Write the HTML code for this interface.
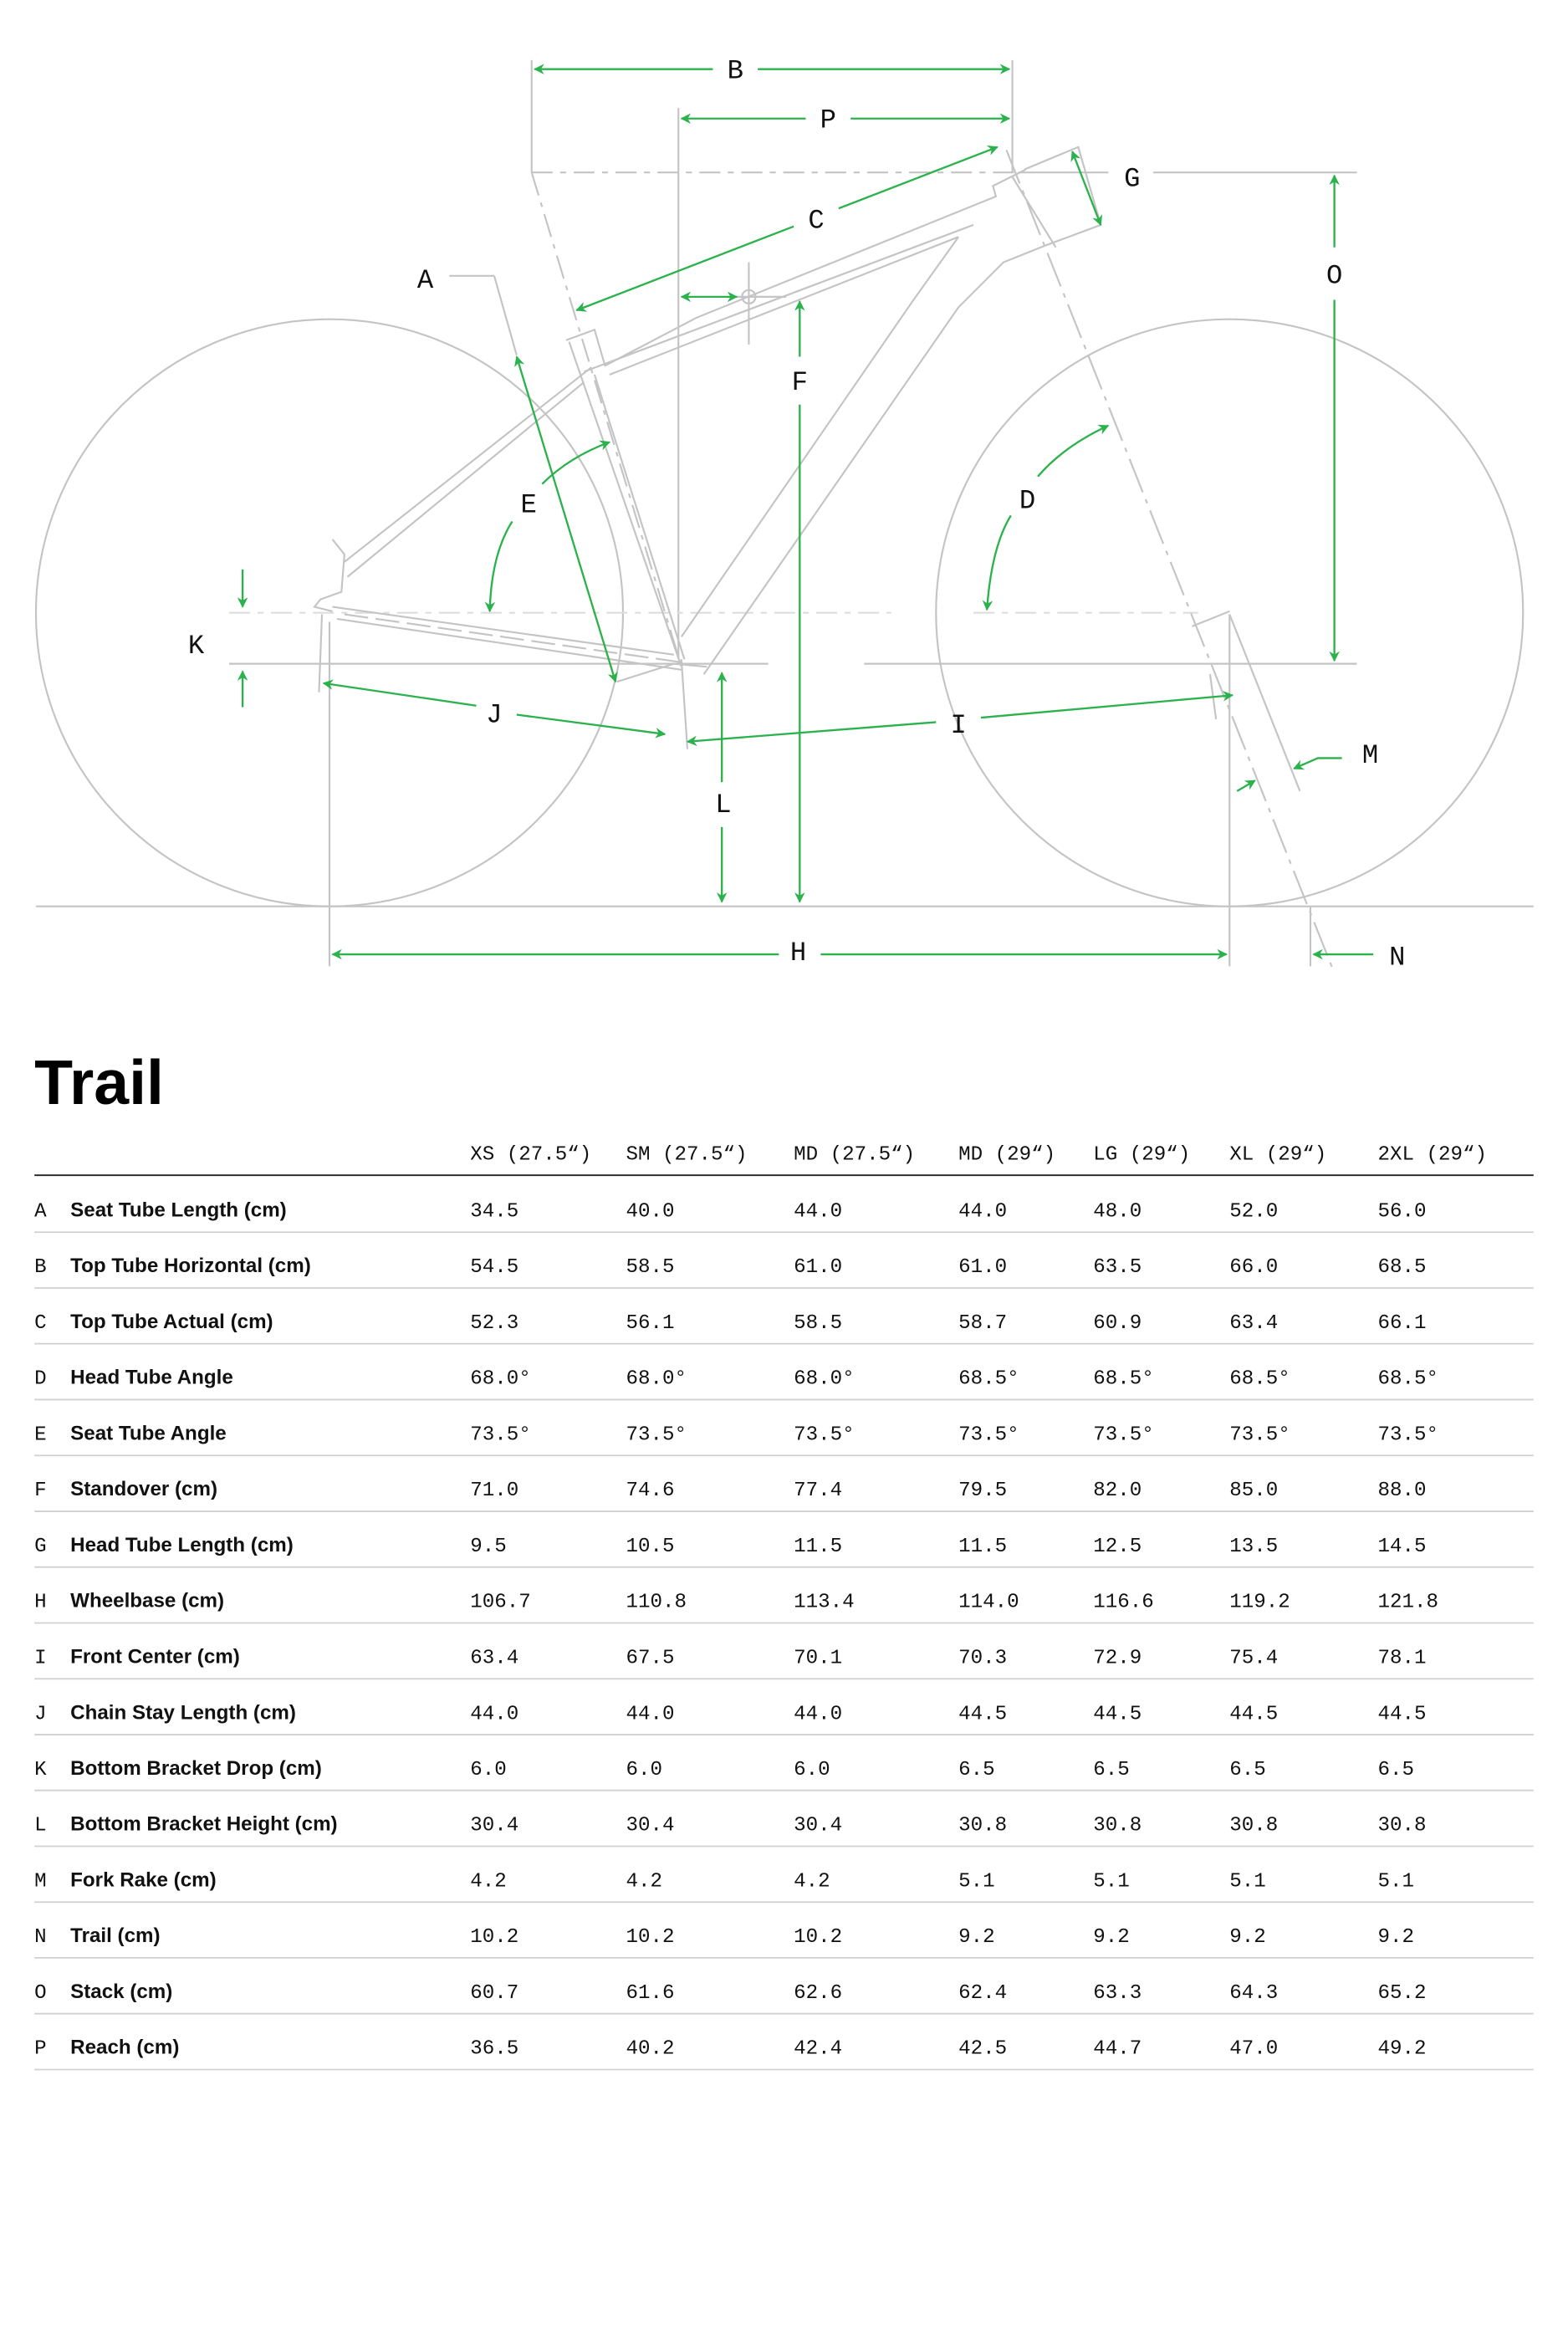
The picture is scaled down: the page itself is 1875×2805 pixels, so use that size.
<!DOCTYPE html>
<html><head><meta charset="utf-8"><style>
html,body{margin:0;padding:0;background:#fff;}
svg{display:block;}
.m{font-family:"Liberation Mono",monospace;}
.b{font-family:"Liberation Sans",sans-serif;font-weight:bold;}
</style></head><body>
<svg width="1875" height="2805" viewBox="0 0 1047 1566" xmlns="http://www.w3.org/2000/svg">
<defs>
<marker id="ar" viewBox="0 0 10 10" refX="9" refY="5" markerWidth="7" markerHeight="7" orient="auto-start-reverse" markerUnits="userSpaceOnUse"><path d="M0,0 L10,5 L0,10 L3,5 z" fill="#2bb24c"/></marker>
</defs>
<rect width="1047" height="1566" fill="#fff"/>
<g fill="none" stroke="#c4c4c4" stroke-width="1.2">
<circle cx="220" cy="409" r="196"/>
<circle cx="821" cy="409" r="196"/>
<line x1="24" y1="605" x2="1024" y2="605"/>
<line x1="355" y1="40" x2="355" y2="115"/>
<line x1="676" y1="40" x2="676" y2="115"/>
<line x1="453" y1="72" x2="453" y2="440"/>
<line x1="355" y1="115" x2="680" y2="115" stroke-dasharray="14,5,4,5"/>
<line x1="680" y1="115" x2="740" y2="115"/>
<line x1="770" y1="115" x2="906" y2="115"/>
<line x1="153" y1="443" x2="513" y2="443"/>
<line x1="577" y1="443" x2="906" y2="443"/>
<line x1="153" y1="409" x2="595" y2="409" stroke-dasharray="14,5,4,5" stroke="#ddd"/>
<line x1="650" y1="409" x2="800" y2="409" stroke-dasharray="14,5,4,5" stroke="#ddd"/>
<line x1="355" y1="115" x2="455" y2="445" stroke-dasharray="16,5,3,5"/>
<line x1="672" y1="100" x2="890" y2="647" stroke-dasharray="24,5,3,5"/>
<line x1="220" y1="415" x2="220" y2="645"/>
<line x1="215" y1="410" x2="213" y2="462"/>
<line x1="821" y1="410" x2="821" y2="645"/>
<line x1="875" y1="605" x2="875" y2="645"/>
<line x1="455" y1="440" x2="459" y2="500"/>
<line x1="300" y1="184" x2="330" y2="184"/>
<line x1="330" y1="184" x2="345" y2="237"/>
<line x1="500" y1="175" x2="500" y2="230"/>
<line x1="490" y1="198" x2="525" y2="198"/>
<circle cx="500" cy="198" r="4.5"/>
<polyline points="378,227 397,220 404,244 465,212 665,131 663,124 685,113"/>
<polyline points="390,248 650,150"/>
<polyline points="407,250 640,158"/>
<polyline points="684,113 720,98 735,150 700,163"/>
<line x1="676" y1="118" x2="705" y2="165"/>
<polyline points="640,158 610,200 455,425"/>
<polyline points="700,163 670,175 640,205 470,450"/>
<polyline points="380,228 455,445"/>
<polyline points="397,250 457,440"/>
<polyline points="395,245 230,375"/>
<polyline points="390,255 232,385"/>
<polyline points="222,360 230,370 228,395 214,400 210,405 222,408"/>
<polyline points="222,405 450,437"/>
<polyline points="225,413 455,447"/>
<line x1="230" y1="410" x2="455" y2="442" stroke-dasharray="16,5"/>
<polyline points="412,455 450,443 472,445"/>
<polyline points="796,418 821,408"/>
<line x1="821" y1="410" x2="868" y2="528"/>
<line x1="808" y1="450" x2="812" y2="480"/>
</g>
<g stroke="#2bb24c" stroke-width="1.3" fill="none">
<line x1="357" y1="46" x2="476" y2="46" marker-start="url(#ar)"/>
<line x1="506" y1="46" x2="674" y2="46" marker-end="url(#ar)"/>
<line x1="455" y1="79" x2="538" y2="79" marker-start="url(#ar)"/>
<line x1="568" y1="79" x2="674" y2="79" marker-end="url(#ar)"/>
<line x1="385" y1="207" x2="530" y2="151" marker-start="url(#ar)"/>
<line x1="560" y1="139" x2="666" y2="98" marker-end="url(#ar)"/>
<line x1="716" y1="101" x2="735" y2="150" marker-start="url(#ar)" marker-end="url(#ar)"/>
<line x1="891" y1="117" x2="891" y2="165" marker-start="url(#ar)"/>
<line x1="891" y1="200" x2="891" y2="441" marker-end="url(#ar)"/>
<line x1="455" y1="198" x2="492" y2="198" marker-start="url(#ar)" marker-end="url(#ar)"/>
<line x1="534" y1="201" x2="534" y2="238" marker-start="url(#ar)"/>
<line x1="534" y1="270" x2="534" y2="602" marker-end="url(#ar)"/>
<line x1="345" y1="238" x2="411" y2="455" marker-start="url(#ar)" marker-end="url(#ar)"/>
<path d="M362,323 Q380,305 407,295" marker-end="url(#ar)"/>
<path d="M342,348 Q328,370 327,408" marker-end="url(#ar)"/>
<path d="M693,318 Q710,298 740,284" marker-end="url(#ar)"/>
<path d="M675,344 Q662,365 659,407" marker-end="url(#ar)"/>
<line x1="162" y1="380" x2="162" y2="405" marker-end="url(#ar)"/>
<line x1="162" y1="472" x2="162" y2="448" marker-end="url(#ar)"/>
<line x1="216" y1="456" x2="318" y2="471" marker-start="url(#ar)"/>
<line x1="345" y1="477" x2="444" y2="490" marker-end="url(#ar)"/>
<line x1="459" y1="495" x2="625" y2="482" marker-start="url(#ar)"/>
<line x1="655" y1="479" x2="823" y2="464" marker-end="url(#ar)"/>
<line x1="482" y1="449" x2="482" y2="522" marker-start="url(#ar)"/>
<line x1="482" y1="552" x2="482" y2="602" marker-end="url(#ar)"/>
<line x1="222" y1="637" x2="520" y2="637" marker-start="url(#ar)"/>
<line x1="548" y1="637" x2="819" y2="637" marker-end="url(#ar)"/>
<path d="M896,506 L880,506 L864,513" marker-end="url(#ar)"/>
<line x1="826" y1="528" x2="838" y2="521" marker-end="url(#ar)"/>
<line x1="917" y1="637" x2="877" y2="637" marker-end="url(#ar)"/>
</g>
<g font-family="Liberation Mono, monospace" font-size="18" fill="#111" text-anchor="middle">
<text x="491" y="52">B</text><text x="553" y="85">P</text><text x="545" y="152">C</text>
<text x="756" y="124">G</text><text x="891" y="189">O</text><text x="284" y="192">A</text>
<text x="534" y="260">F</text><text x="353" y="342">E</text><text x="686" y="339">D</text>
<text x="131" y="436">K</text><text x="330" y="482">J</text><text x="640" y="489">I</text>
<text x="483" y="542">L</text><text x="533" y="641">H</text><text x="915" y="509">M</text>
<text x="933" y="644">N</text>
</g>
<text x="23" y="737" font-family="Liberation Sans, sans-serif" font-weight="bold" font-size="42" fill="#000">Trail</text>
<g class="m" font-size="13.5" fill="#111">
<text x="314" y="774">XS (27.5“)</text><text x="418" y="774">SM (27.5“)</text><text x="530" y="774">MD (27.5“)</text><text x="640" y="774">MD (29“)</text><text x="730" y="774">LG (29“)</text><text x="821" y="774">XL (29“)</text><text x="920" y="774">2XL (29“)</text>
</g>
<line x1="23" y1="784.5" x2="1024" y2="784.5" stroke="#222" stroke-width="1"/>
<g stroke="#d0d0d0" stroke-width="1">
<line x1="23" x2="1024" y1="822.5" y2="822.5"/><line x1="23" x2="1024" y1="859.8" y2="859.8"/><line x1="23" x2="1024" y1="897" y2="897"/><line x1="23" x2="1024" y1="934.3" y2="934.3"/><line x1="23" x2="1024" y1="971.6" y2="971.6"/><line x1="23" x2="1024" y1="1008.9" y2="1008.9"/><line x1="23" x2="1024" y1="1046.1" y2="1046.1"/><line x1="23" x2="1024" y1="1083.4" y2="1083.4"/><line x1="23" x2="1024" y1="1120.7" y2="1120.7"/><line x1="23" x2="1024" y1="1158" y2="1158"/><line x1="23" x2="1024" y1="1195.2" y2="1195.2"/><line x1="23" x2="1024" y1="1232.5" y2="1232.5"/><line x1="23" x2="1024" y1="1269.8" y2="1269.8"/><line x1="23" x2="1024" y1="1307" y2="1307"/><line x1="23" x2="1024" y1="1344.3" y2="1344.3"/><line x1="23" x2="1024" y1="1381.6" y2="1381.6"/>
</g>
<g font-size="13.5" fill="#111">
<g transform="translate(0,812)"><text class="m" x="23">A</text><text class="b" x="47">Seat Tube Length (cm)</text><text class="m" x="314">34.5</text><text class="m" x="418">40.0</text><text class="m" x="530">44.0</text><text class="m" x="640">44.0</text><text class="m" x="730">48.0</text><text class="m" x="821">52.0</text><text class="m" x="920">56.0</text></g>
<g transform="translate(0,849.3)"><text class="m" x="23">B</text><text class="b" x="47">Top Tube Horizontal (cm)</text><text class="m" x="314">54.5</text><text class="m" x="418">58.5</text><text class="m" x="530">61.0</text><text class="m" x="640">61.0</text><text class="m" x="730">63.5</text><text class="m" x="821">66.0</text><text class="m" x="920">68.5</text></g>
<g transform="translate(0,886.5)"><text class="m" x="23">C</text><text class="b" x="47">Top Tube Actual (cm)</text><text class="m" x="314">52.3</text><text class="m" x="418">56.1</text><text class="m" x="530">58.5</text><text class="m" x="640">58.7</text><text class="m" x="730">60.9</text><text class="m" x="821">63.4</text><text class="m" x="920">66.1</text></g>
<g transform="translate(0,923.8)"><text class="m" x="23">D</text><text class="b" x="47">Head Tube Angle</text><text class="m" x="314">68.0°</text><text class="m" x="418">68.0°</text><text class="m" x="530">68.0°</text><text class="m" x="640">68.5°</text><text class="m" x="730">68.5°</text><text class="m" x="821">68.5°</text><text class="m" x="920">68.5°</text></g>
<g transform="translate(0,961.1)"><text class="m" x="23">E</text><text class="b" x="47">Seat Tube Angle</text><text class="m" x="314">73.5°</text><text class="m" x="418">73.5°</text><text class="m" x="530">73.5°</text><text class="m" x="640">73.5°</text><text class="m" x="730">73.5°</text><text class="m" x="821">73.5°</text><text class="m" x="920">73.5°</text></g>
<g transform="translate(0,998.4)"><text class="m" x="23">F</text><text class="b" x="47">Standover (cm)</text><text class="m" x="314">71.0</text><text class="m" x="418">74.6</text><text class="m" x="530">77.4</text><text class="m" x="640">79.5</text><text class="m" x="730">82.0</text><text class="m" x="821">85.0</text><text class="m" x="920">88.0</text></g>
<g transform="translate(0,1035.6)"><text class="m" x="23">G</text><text class="b" x="47">Head Tube Length (cm)</text><text class="m" x="314">9.5</text><text class="m" x="418">10.5</text><text class="m" x="530">11.5</text><text class="m" x="640">11.5</text><text class="m" x="730">12.5</text><text class="m" x="821">13.5</text><text class="m" x="920">14.5</text></g>
<g transform="translate(0,1072.9)"><text class="m" x="23">H</text><text class="b" x="47">Wheelbase (cm)</text><text class="m" x="314">106.7</text><text class="m" x="418">110.8</text><text class="m" x="530">113.4</text><text class="m" x="640">114.0</text><text class="m" x="730">116.6</text><text class="m" x="821">119.2</text><text class="m" x="920">121.8</text></g>
<g transform="translate(0,1110.2)"><text class="m" x="23">I</text><text class="b" x="47">Front Center (cm)</text><text class="m" x="314">63.4</text><text class="m" x="418">67.5</text><text class="m" x="530">70.1</text><text class="m" x="640">70.3</text><text class="m" x="730">72.9</text><text class="m" x="821">75.4</text><text class="m" x="920">78.1</text></g>
<g transform="translate(0,1147.5)"><text class="m" x="23">J</text><text class="b" x="47">Chain Stay Length (cm)</text><text class="m" x="314">44.0</text><text class="m" x="418">44.0</text><text class="m" x="530">44.0</text><text class="m" x="640">44.5</text><text class="m" x="730">44.5</text><text class="m" x="821">44.5</text><text class="m" x="920">44.5</text></g>
<g transform="translate(0,1184.7)"><text class="m" x="23">K</text><text class="b" x="47">Bottom Bracket Drop (cm)</text><text class="m" x="314">6.0</text><text class="m" x="418">6.0</text><text class="m" x="530">6.0</text><text class="m" x="640">6.5</text><text class="m" x="730">6.5</text><text class="m" x="821">6.5</text><text class="m" x="920">6.5</text></g>
<g transform="translate(0,1222)"><text class="m" x="23">L</text><text class="b" x="47">Bottom Bracket Height (cm)</text><text class="m" x="314">30.4</text><text class="m" x="418">30.4</text><text class="m" x="530">30.4</text><text class="m" x="640">30.8</text><text class="m" x="730">30.8</text><text class="m" x="821">30.8</text><text class="m" x="920">30.8</text></g>
<g transform="translate(0,1259.3)"><text class="m" x="23">M</text><text class="b" x="47">Fork Rake (cm)</text><text class="m" x="314">4.2</text><text class="m" x="418">4.2</text><text class="m" x="530">4.2</text><text class="m" x="640">5.1</text><text class="m" x="730">5.1</text><text class="m" x="821">5.1</text><text class="m" x="920">5.1</text></g>
<g transform="translate(0,1296.5)"><text class="m" x="23">N</text><text class="b" x="47">Trail (cm)</text><text class="m" x="314">10.2</text><text class="m" x="418">10.2</text><text class="m" x="530">10.2</text><text class="m" x="640">9.2</text><text class="m" x="730">9.2</text><text class="m" x="821">9.2</text><text class="m" x="920">9.2</text></g>
<g transform="translate(0,1333.8)"><text class="m" x="23">O</text><text class="b" x="47">Stack (cm)</text><text class="m" x="314">60.7</text><text class="m" x="418">61.6</text><text class="m" x="530">62.6</text><text class="m" x="640">62.4</text><text class="m" x="730">63.3</text><text class="m" x="821">64.3</text><text class="m" x="920">65.2</text></g>
<g transform="translate(0,1371.1)"><text class="m" x="23">P</text><text class="b" x="47">Reach (cm)</text><text class="m" x="314">36.5</text><text class="m" x="418">40.2</text><text class="m" x="530">42.4</text><text class="m" x="640">42.5</text><text class="m" x="730">44.7</text><text class="m" x="821">47.0</text><text class="m" x="920">49.2</text></g>
</g>
</svg>
</body></html>
